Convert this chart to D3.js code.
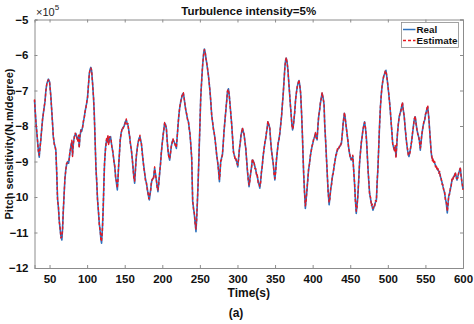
<!DOCTYPE html>
<html>
<head>
<meta charset="utf-8">
<script src="https://cdn.jsdelivr.net/npm/d3@7"></script>
<style>
  html, body { margin: 0; padding: 0; background: #fff; }
  svg { display: block; font-family: "Liberation Sans", Arial, sans-serif; }
</style>
</head>
<body>
<svg id="chart" width="474" height="324"></svg>
<script>
// ---- data (values in units of 10^5 N.m/degree) ----
const chartTitle = "Turbulence intensity=5%";
const xLabel = "Time(s)";
const yLabel = "Pitch sensitivity(N.m/degree)";
const panelLabel = "(a)";
const seriesNames = ["Real", "Estimate"];
const xTicks = [50, 100, 150, 200, 250, 300, 350, 400, 450, 500, 550, 600];
const yTicks = [-5, -6, -7, -8, -9, -10, -11, -12];
const xDomain = [30, 600];
const yDomain = [-12, -5];

const timeS = [
  30,32,33.5,35,36.3,37.3,38.4,39.5,40.7,42,43,44,45.1,46.5,48.5,50,51.8,53,54,55,56.3,57.5,58.4,59.5,
  60.7,61.8,62.9,64,65.1,66.4,67.3,68.2,69.3,70.4,71.5,72.6,74,75.3,76,77,78.5,79.7,80.6,81.5,82.9,84,85,86,87.3,88.5,89.5,90.5,
  91.7,92.8,94,95,96.2,97.3,98.4,99.5,100.6,101.8,102.9,104,105,106,107.3,108.5,109.5,110.6,111.7,112.8,113.9,115,116.2,117.5,118.4,119.2,120.3,121.5,122.3,123.2,124.5,125.9,
  126.8,127.7,128.6,130,131.2,132,133,134.3,135.6,137,137.9,139,140.2,141,141.9,143,144.1,145.2,146.3,147.5,149,150.5,152.1,153,154.3,155.3,156.5,157.7,158.8,160,
  160.9,162,163.2,164.3,165.5,166.5,167.6,169,170.3,171.2,172.1,173.2,174.3,175.5,176.5,177.7,178.8,180,180.9,182,182.8,183.6,184.5,185.3,186.2,187.3,188.5,189.8,191,192,193.2,194.2,195.3,196.5,197.6,198.7,199.8,
  200.9,202,203.1,204.2,205.4,206.5,207.5,208.6,209.8,210.9,212,213.1,214.2,215.3,216.5,217.6,218.7,219.8,220.8,222,223.1,224.5,226,227,228,229,230.2,231.3,232.5,233.6,234.7,235.8,236.9,238,239.1,
  240.4,241.5,242.7,243.8,244.8,245.7,246.7,247.8,248.8,250,251.1,252.4,253.7,255,256,257,258.1,259.7,261.3,262.4,263.5,264.6,265.7,266.9,268,269,270.1,271.3,272.4,273.5,274.6,275.3,276,
  276.8,277.7,278.8,280,281,282.1,283.5,284.8,285.8,286.7,288,289.1,290.2,291.3,292.4,293.5,294.7,295.7,296.8,298,299.1,300.4,301.5,302.7,303.8,304.8,305.7,306.6,307.7,308.8,310,311,312.2,313.3,314.4,
  315.4,316.5,317.6,318.7,319.8,321,322.1,323.2,324.3,325.4,326.4,327.5,328.6,329.7,330.8,331.8,333,334.1,335.3,336.4,337.5,338.5,339.5,340.4,341.7,343,344.1,345.2,346.3,347.5,348.6,349.7,350.8,
  351.9,353,354.2,355.3,356.4,357.5,358.6,359.7,360.9,362,363.1,364,364.9,366,367.1,368.2,369.3,370.4,371.6,372.4,373.3,374.2,375.2,376.3,377.3,378.4,379.6,380.7,381.8,382.9,384,385.2,386.3,387.2,388,389.2,390.3,
  391.4,392.5,393.5,394.6,395.8,396.9,398,399.2,400.3,401.3,402.5,403.6,404.7,405.9,407,408,409.2,410.3,411.5,412.6,413.9,415.2,416,417.2,418.3,419.4,420.5,421.9,423,424,425.2,426.3,427.4,428.5,429.6,
  430.7,431.8,433,434.5,436.1,437.2,438.3,439.5,440.6,441.5,442.3,443.5,444.6,445.7,446.7,447.9,449,450.2,451.3,452.4,453.4,454.5,455.7,456.8,458,459,460.1,461.3,462.4,463.5,464.7,465.8,466.9,468,
  469.1,470.2,471.4,472.4,473.5,474.6,475.8,477,478.1,479.2,480.2,481.3,482.5,483.6,484.8,485.8,486.9,488,489.1,490.2,491.4,492.4,493.5,494.6,495.8,496.6,497.5,498.6,499.8,501,502.1,503.2,504.2,505.3,
  506.5,507.6,508.8,509.8,510.9,512,512.8,514,515.1,516.3,517.4,518.5,519.5,520.6,521.8,522.9,524.1,525.2,526.2,527.2,528.1,529.4,530.7,531.8,532.9,534,535.1,536.4,537.5,538.7,539.8,540.9,542,543.2,
  544,545,546.7,547.8,549,550,551.1,552,553,553.8,554.7,555.6,556.5,557.4,558.3,559.2,560,561.2,562.3,563.4,564.4,565.6,566.7,567.8,569,570,571.1,572.3,573.4,574.5,575.6,576.7,577.8,579.1,580,581,
  582,583.1,584.3,585.4,586.5,587.6,588.7,589.8,590.9,592,593.2,594.3,595.4,596.4,597.5,598.7,600
];

const realVals = [
  -7.27,-7.9,-8.3,-8.65,-8.88,-8.6,-8.4,-8.1,-7.83,-7.6,-7.46,-7.3,-7.0,-6.8,-6.68,-6.75,-7.17,-7.6,-7.92,-8.3,-8.49,-8.6,-8.68,-9.3,
  -10.05,-10.3,-10.65,-10.9,-11.1,-11.21,-10.9,-10.46,-9.95,-9.52,-9.25,-9.1,-9.0,-9.05,-8.95,-8.77,-8.55,-8.45,-8.82,-8.55,-8.3,-8.25,-8.21,-8.3,-8.39,-8.3,-8.58,-8.3,
  -8.11,-8.15,-8.02,-7.9,-7.74,-7.6,-7.46,-7.35,-7.17,-6.85,-6.52,-6.4,-6.35,-6.45,-6.8,-7.2,-7.64,-8.4,-9.15,-9.6,-10.08,-10.4,-10.74,-11.0,-11.2,-11.3,-10.9,-10.27,-9.6,-9.05,-8.6,-8.39,
  -8.4,-8.3,-8.49,-8.35,-8.3,-8.45,-8.58,-8.75,-8.96,-9.2,-9.43,-9.6,-9.8,-9.5,-9.15,-8.75,-8.39,-8.2,-8.11,-8.05,-8.02,-7.9,-7.83,-7.9,-7.97,-8.1,-8.3,-8.5,-8.68,-8.9,
  -9.15,-9.4,-9.61,-9.2,-8.86,-8.65,-8.49,-8.35,-8.3,-8.4,-8.49,-8.7,-8.96,-9.15,-9.33,-9.5,-9.61,-9.75,-9.9,-10.0,-10.08,-9.95,-9.8,-9.65,-9.52,-9.5,-9.43,-9.19,-9.35,-9.52,-9.7,-9.85,-9.6,-9.33,-9.05,-8.77,-8.5,
  -8.3,-8.1,-7.92,-7.95,-8.07,-8.4,-8.68,-8.85,-8.96,-8.75,-8.58,-8.45,-8.39,-8.42,-8.49,-8.55,-8.63,-8.3,-8.02,-7.7,-7.5,-7.31,-7.18,-7.1,-7.08,-7.2,-7.41,-7.55,-7.69,-7.8,-7.88,-8.05,-8.25,-8.55,-8.91,
  -10.13,-10.3,-10.51,-10.75,-10.98,-10.6,-10.13,-9.5,-8.82,-8.0,-7.22,-6.7,-6.28,-5.95,-5.83,-5.92,-6.09,-6.32,-6.56,-6.8,-7.03,-7.35,-7.69,-7.9,-8.07,-8.2,-8.35,-8.6,-8.82,-9.0,-9.19,-9.4,-9.57,
  -9.3,-9.01,-8.9,-8.82,-8.5,-8.16,-7.8,-7.5,-7.25,-7.03,-6.95,-7.15,-7.41,-7.7,-7.97,-8.35,-8.72,-8.82,-8.91,-8.95,-9.01,-9.15,-8.9,-8.63,-8.45,-8.25,-8.15,-8.07,-8.15,-8.25,-8.45,-8.63,-8.95,-9.29,-9.5,
  -9.71,-9.5,-9.33,-9.15,-8.96,-8.98,-9.05,-9.15,-9.24,-9.35,-9.43,-9.55,-9.65,-9.75,-9.55,-9.33,-9.1,-8.86,-8.65,-8.49,-8.35,-8.21,-8.05,-7.88,-7.95,-8.07,-8.4,-8.68,-8.85,-9.05,-9.3,-9.52,-9.25,
  -8.96,-8.7,-8.49,-8.35,-8.21,-7.95,-7.74,-7.4,-7.08,-6.7,-6.33,-6.15,-6.09,-6.2,-6.42,-6.75,-7.08,-7.4,-7.74,-7.95,-8.11,-8.0,-7.83,-7.55,-7.27,-7.05,-6.89,-6.78,-6.72,-6.85,-7.08,-7.6,-8.21,-8.8,-9.33,-9.85,-10.32,
  -10.05,-9.8,-9.5,-9.24,-9.05,-8.86,-8.7,-8.58,-8.48,-8.39,-8.3,-8.21,-8.3,-8.39,-8.0,-7.74,-7.55,-7.36,-7.2,-7.08,-7.2,-7.4,-7.92,-8.4,-8.86,-9.35,-9.8,-10.22,-10.0,-9.8,-9.6,-9.43,-9.3,-9.15,-9.0,
  -8.86,-8.75,-8.68,-8.62,-8.58,-8.52,-8.49,-8.2,-7.92,-7.75,-7.64,-7.8,-8.02,-8.2,-8.39,-8.6,-8.77,-8.88,-8.96,-8.9,-8.86,-9.2,-9.61,-10.05,-10.46,-10.25,-9.99,-9.5,-9.05,-8.75,-8.49,-8.3,-8.11,-7.98,
  -7.88,-8.05,-8.3,-8.7,-9.15,-9.55,-9.9,-10.05,-10.18,-10.28,-10.37,-10.3,-10.22,-10.15,-10.08,-9.6,-9.15,-8.55,-7.92,-7.45,-7.08,-6.88,-6.7,-6.6,-6.52,-6.47,-6.43,-6.6,-6.8,-7.05,-7.27,-7.55,-7.83,-8.15,
  -8.49,-8.6,-8.68,-8.6,-8.86,-8.5,-8.21,-7.95,-7.74,-7.65,-7.55,-7.45,-7.36,-7.55,-7.74,-8.0,-8.3,-8.5,-8.68,-8.78,-8.86,-8.72,-8.58,-8.4,-8.21,-8.0,-7.83,-7.74,-7.9,-8.11,-8.2,-8.3,-8.4,-8.68,
  -8.5,-8.3,-8.02,-7.92,-7.83,-7.7,-7.6,-7.52,-7.46,-7.6,-7.83,-8.1,-8.39,-8.65,-8.86,-8.92,-8.96,-9.0,-9.05,-9.1,-9.15,-9.2,-9.24,-9.28,-9.33,-9.42,-9.52,-9.6,-9.71,-9.8,-9.9,-10.05,-10.18,-10.45,-10.2,-9.99,
  -9.9,-9.8,-9.65,-9.52,-9.48,-9.43,-9.38,-9.33,-9.42,-9.52,-9.42,-9.33,-9.25,-9.19,-9.4,-9.61,-9.78
];

const estimateVals = [
  -7.25,-7.95,-8.25,-8.7,-8.82,-8.65,-8.38,-8.12,-7.8,-7.62,-7.44,-7.32,-7.02,-6.78,-6.7,-6.74,-7.2,-7.58,-7.95,-8.28,-8.52,-8.56,-8.72,-9.25,
  -10.1,-10.25,-10.7,-10.85,-11.15,-11.12,-10.95,-10.4,-9.98,-9.48,-9.28,-9.05,-9.04,-9.0,-8.98,-8.72,-8.6,-8.4,-8.86,-8.5,-8.34,-8.2,-8.26,-8.27,-8.44,-8.26,-8.62,-8.25,
  -8.15,-8.1,-8.05,-7.86,-7.78,-7.58,-7.5,-7.32,-7.2,-6.82,-6.55,-6.38,-6.37,-6.43,-6.83,-7.18,-7.68,-8.36,-9.2,-9.55,-10.12,-10.36,-10.8,-10.95,-11.25,-11.22,-10.95,-10.22,-9.65,-9.0,-8.65,-8.35,
  -8.45,-8.26,-8.54,-8.3,-8.35,-8.4,-8.62,-8.72,-9.0,-9.15,-9.48,-9.55,-9.75,-9.55,-9.1,-8.8,-8.35,-8.24,-8.08,-8.1,-7.98,-7.94,-7.8,-7.95,-7.93,-8.14,-8.26,-8.54,-8.64,-8.94,
  -9.1,-9.45,-9.55,-9.25,-8.82,-8.7,-8.45,-8.4,-8.26,-8.44,-8.45,-8.75,-8.92,-9.2,-9.3,-9.56,-9.58,-9.8,-9.85,-10.05,-10.02,-9.9,-9.85,-9.6,-9.56,-9.45,-9.48,-9.15,-9.4,-9.48,-9.75,-9.8,-9.65,-9.3,-9.1,-8.74,-8.54,
  -8.26,-8.14,-7.9,-7.98,-8.04,-8.44,-8.65,-8.88,-8.92,-8.78,-8.55,-8.48,-8.36,-8.45,-8.46,-8.58,-8.6,-8.34,-8.0,-7.72,-7.48,-7.33,-7.16,-7.12,-7.06,-7.22,-7.38,-7.58,-7.66,-7.83,-7.86,-8.08,-8.22,-8.58,-8.88,
  -10.08,-10.35,-10.46,-10.8,-10.9,-10.65,-10.1,-9.52,-8.8,-8.02,-7.2,-6.72,-6.26,-5.97,-5.85,-5.9,-6.11,-6.3,-6.58,-6.78,-7.05,-7.33,-7.71,-7.88,-8.1,-8.18,-8.38,-8.57,-8.85,-8.97,-9.23,-9.36,-9.5,
  -9.35,-8.98,-8.95,-8.78,-8.54,-8.13,-7.83,-7.48,-7.27,-7.01,-6.97,-7.13,-7.44,-7.68,-8.0,-8.32,-8.75,-8.8,-8.95,-8.92,-9.05,-9.1,-8.94,-8.6,-8.48,-8.22,-8.18,-8.05,-8.18,-8.22,-8.48,-8.6,-8.98,-9.25,-9.55,
  -9.66,-9.55,-9.3,-9.18,-8.92,-9.02,-9.0,-9.2,-9.2,-9.4,-9.38,-9.6,-9.6,-9.7,-9.6,-9.3,-9.14,-8.82,-8.68,-8.46,-8.38,-8.18,-8.08,-7.86,-7.98,-8.04,-8.44,-8.65,-8.9,-9.02,-9.35,-9.48,-9.3,
  -8.92,-8.74,-8.46,-8.38,-8.18,-7.98,-7.72,-7.42,-7.06,-6.72,-6.31,-6.17,-6.07,-6.22,-6.4,-6.77,-7.06,-7.42,-7.72,-7.98,-8.08,-8.03,-7.8,-7.58,-7.25,-7.07,-6.87,-6.8,-6.7,-6.87,-7.06,-7.62,-8.18,-8.84,-9.3,-9.9,-10.25,
  -10.1,-9.75,-9.54,-9.2,-9.08,-8.83,-8.73,-8.55,-8.5,-8.36,-8.33,-8.18,-8.34,-8.35,-8.03,-7.72,-7.57,-7.34,-7.22,-7.06,-7.22,-7.38,-7.95,-8.38,-8.9,-9.3,-9.85,-10.15,-10.05,-9.75,-9.65,-9.38,-9.35,-9.1,-9.04,
  -8.82,-8.8,-8.64,-8.66,-8.54,-8.56,-8.45,-8.23,-7.9,-7.78,-7.62,-7.83,-8.0,-8.23,-8.36,-8.63,-8.74,-8.92,-8.93,-8.94,-8.82,-9.24,-9.58,-10.1,-10.4,-10.3,-9.95,-9.54,-9.02,-8.78,-8.46,-8.33,-8.09,-8.0,
  -7.9,-8.02,-8.34,-8.66,-9.2,-9.5,-9.95,-10.0,-10.24,-10.2,-10.32,-10.26,-10.28,-10.1,-10.12,-9.55,-9.18,-8.52,-7.95,-7.43,-7.1,-6.86,-6.72,-6.58,-6.54,-6.45,-6.45,-6.58,-6.82,-7.03,-7.3,-7.52,-7.86,-8.12,
  -8.52,-8.56,-8.72,-8.55,-8.9,-8.46,-8.24,-7.92,-7.77,-7.62,-7.58,-7.42,-7.33,-7.58,-7.7,-8.04,-8.26,-8.55,-8.64,-8.82,-8.82,-8.76,-8.54,-8.44,-8.18,-8.04,-7.8,-7.72,-7.94,-8.08,-8.24,-8.26,-8.45,-8.62,
  -8.55,-8.26,-8.05,-7.88,-7.86,-7.66,-7.63,-7.5,-7.42,-7.63,-7.8,-8.14,-8.35,-8.7,-8.8,-8.98,-8.9,-9.06,-9.0,-9.15,-9.1,-9.25,-9.2,-9.33,-9.28,-9.47,-9.48,-9.65,-9.66,-9.85,-9.86,-10.1,-10.14,-10.4,-10.25,-9.95,
  -9.94,-9.76,-9.7,-9.48,-9.52,-9.4,-9.42,-9.3,-9.46,-9.48,-9.46,-9.3,-9.28,-9.16,-9.44,-9.58,-9.8
];

// ---- layout ----
const svg = d3.select("#chart");
const m = { left: 34.5, right: 463, top: 19.5, bottom: 268 };
const axisColor = "#8c8c8c";
const realColor = "#2f72bd";
const estColor = "#e8161f";
const fontBold = "bold";

const x = d3.scaleLinear().domain(xDomain).range([m.left, m.right]);
const y = d3.scaleLinear().domain(yDomain).range([m.bottom, m.top]);

svg.append("rect").attr("x", m.left).attr("y", m.top)
  .attr("width", m.right - m.left).attr("height", m.bottom - m.top)
  .attr("fill", "#fff");

const fmt = d => (d < 0 ? "\u2212" + Math.abs(d) : String(d));

const gx = svg.append("g").attr("transform", `translate(0,${m.bottom})`)
  .call(d3.axisBottom(x).tickValues(xTicks).tickSize(-3).tickPadding(7).tickFormat(d3.format("d")));
const gxt = svg.append("g").attr("transform", `translate(0,${m.top})`)
  .call(d3.axisTop(x).tickValues(xTicks).tickSize(-3).tickFormat(""));
const gy = svg.append("g").attr("transform", `translate(${m.left},0)`)
  .call(d3.axisLeft(y).tickValues(yTicks).tickSize(-3).tickPadding(6).tickFormat(fmt));
const gyr = svg.append("g").attr("transform", `translate(${m.right},0)`)
  .call(d3.axisRight(y).tickValues(yTicks).tickSize(-3).tickFormat(""));

[gx, gxt, gy, gyr].forEach(g => {
  g.selectAll(".domain").attr("stroke", axisColor).attr("stroke-width", 1);
  g.selectAll(".tick line").attr("stroke", axisColor);
  g.selectAll("text").attr("fill", "#111").attr("font-size", "11.5px")
    .attr("font-weight", fontBold).attr("font-family", "Liberation Sans, Arial, sans-serif");
});

const n = Math.min(timeS.length, realVals.length, estimateVals.length);
const idx = d3.range(n);
const lineReal = d3.line().x(i => x(timeS[i])).y(i => y(realVals[i]));
const lineEst = d3.line().x(i => x(timeS[i])).y(i => y(estimateVals[i]));

const plot = svg.append("g");
plot.append("path").datum(idx).attr("d", lineReal)
  .attr("fill", "none").attr("stroke", realColor).attr("stroke-width", 1.6)
  .attr("stroke-linejoin", "round");
plot.append("path").datum(idx).attr("d", lineEst)
  .attr("fill", "none").attr("stroke", estColor).attr("stroke-width", 1.4)
  .attr("stroke-dasharray", "3,2").attr("stroke-linejoin", "round");

const ex = svg.append("text").attr("x", 36).attr("y", 16)
  .attr("font-size", "11px").attr("fill", "#222");
ex.append("tspan").text("\u00d710");
ex.append("tspan").attr("dy", -6).attr("font-size", "8px").text("5");

svg.append("text").attr("x", (m.left + m.right) / 2).attr("y", 15)
  .attr("text-anchor", "middle").attr("font-size", "11.5px").attr("font-weight", "bold")
  .attr("fill", "#111").text(chartTitle);

svg.append("text").attr("x", (m.left + m.right) / 2).attr("y", 297)
  .attr("text-anchor", "middle").attr("font-size", "12px").attr("font-weight", "bold")
  .attr("fill", "#111").text(xLabel);
svg.append("text").attr("transform", `translate(13,144) rotate(-90)`)
  .attr("text-anchor", "middle").attr("font-size", "11px").attr("font-weight", "bold")
  .attr("fill", "#111").text(yLabel);
svg.append("text").attr("x", 236).attr("y", 317)
  .attr("text-anchor", "middle").attr("font-size", "12px").attr("font-weight", "bold")
  .attr("fill", "#111").text(panelLabel);

const lg = svg.append("g");
lg.append("rect").attr("x", 401.5).attr("y", 22.5).attr("width", 57).attr("height", 25)
  .attr("fill", "#fff").attr("stroke", axisColor).attr("stroke-width", 0.8);
const legendItems = [
  { name: seriesNames[0], color: realColor, dash: null, yy: 29.5 },
  { name: seriesNames[1], color: estColor, dash: "3,2", yy: 40.5 }
];
legendItems.forEach(it => {
  lg.append("line").attr("x1", 403).attr("x2", 415.5).attr("y1", it.yy).attr("y2", it.yy)
    .attr("stroke", it.color).attr("stroke-width", 1.5)
    .attr("stroke-dasharray", it.dash);
  lg.append("text").attr("x", 416.5).attr("y", it.yy + 3.5)
    .attr("font-size", "9.8px").attr("font-weight", "bold").attr("fill", "#111").text(it.name);
});
</script>
</body>
</html>
